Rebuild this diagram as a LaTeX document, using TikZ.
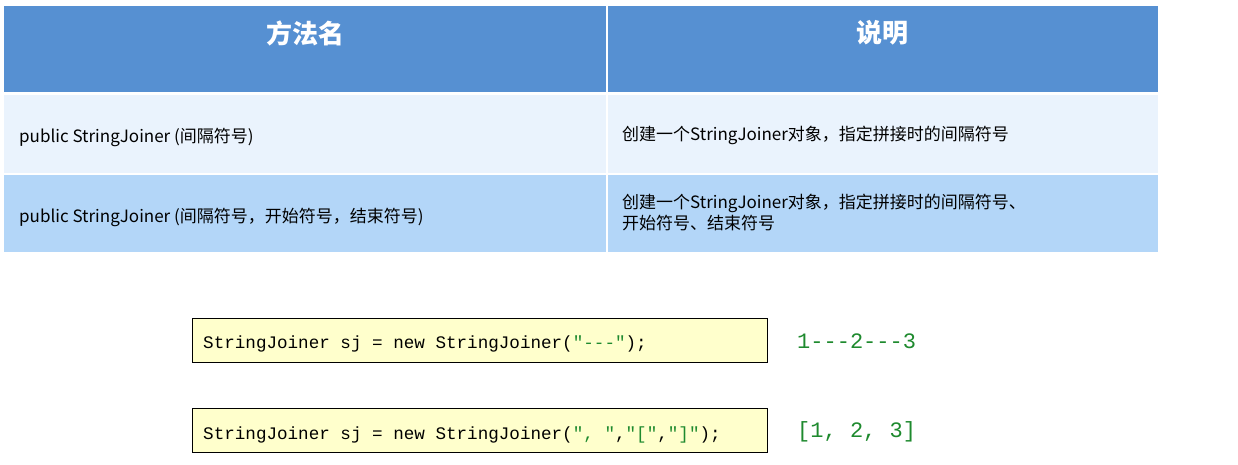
\documentclass[tikz,border=0pt]{standalone}
\usepackage{fontspec}
\setmainfont{Noto Sans CJK SC}
\newfontfamily\codefont{Liberation Mono}
\definecolor{hdr}{HTML}{5690D2}
\definecolor{rowa}{HTML}{EAF3FD}
\definecolor{rowb}{HTML}{B3D6F8}
\definecolor{codebg}{HTML}{FFFFCC}
\definecolor{res}{HTML}{1E8A2E}
\begin{document}
\begin{tikzpicture}[x=1pt,y=-1pt,
  cell/.style={inner sep=0pt,anchor=west,font=\fontsize{17}{21}\selectfont,align=left},
  codebox/.style={draw=black,line width=1.2pt,fill=codebg,minimum width=575pt,minimum height=44pt,anchor=north west,inner sep=0pt},
  code/.style={anchor=west,inner sep=0pt,font=\codefont\fontsize{17.6}{20}\selectfont},
  result/.style={anchor=west,inner sep=0pt,text=res,font=\codefont\fontsize{22}{24}\selectfont}]
\useasboundingbox[fill=white] (0,0) rectangle (1238,464);
% table
\fill[hdr] (4,6) rectangle (1158,92);
\fill[rowa] (4,95) rectangle (1158,173);
\fill[rowb] (4,175) rectangle (1158,252);
\draw[white,line width=1.2pt] (607,6) -- (607,252);
\node[font=\bfseries\fontsize{26}{30}\selectfont,text=white] (h1) at (305,33) {方法名};
\node[font=\bfseries\fontsize{26}{30}\selectfont,text=white] (h2) at (882,33) {说明};
\node[cell] (a1) at (19,137) {public StringJoiner (间隔符号)};
\node[cell] (b1) at (622,135) {创建一个StringJoiner对象，指定拼接时的间隔符号};
\node[cell] (a2) at (19,217) {public StringJoiner (间隔符号，开始符号，结束符号)};
\node[cell] (b2) at (622,213) {创建一个StringJoiner对象，指定拼接时的间隔符号、\\开始符号、结束符号};
% code
\node[codebox] (c1) at (192,318) {};
\node[code] (t1) at (203,344) {StringJoiner sj = new StringJoiner(\textcolor{res}{"---"});};
\node[codebox] (c2) at (192,408) {};
\node[code] (t2) at (203,435) {StringJoiner sj = new StringJoiner(\textcolor{res}{", "},\textcolor{res}{"["},\textcolor{res}{"]"});};
\node[result] (r1) at (797,341) {1---2---3};
\node[result] (r2) at (797,432) {[1, 2, 3]};
\end{tikzpicture}
\end{document}
